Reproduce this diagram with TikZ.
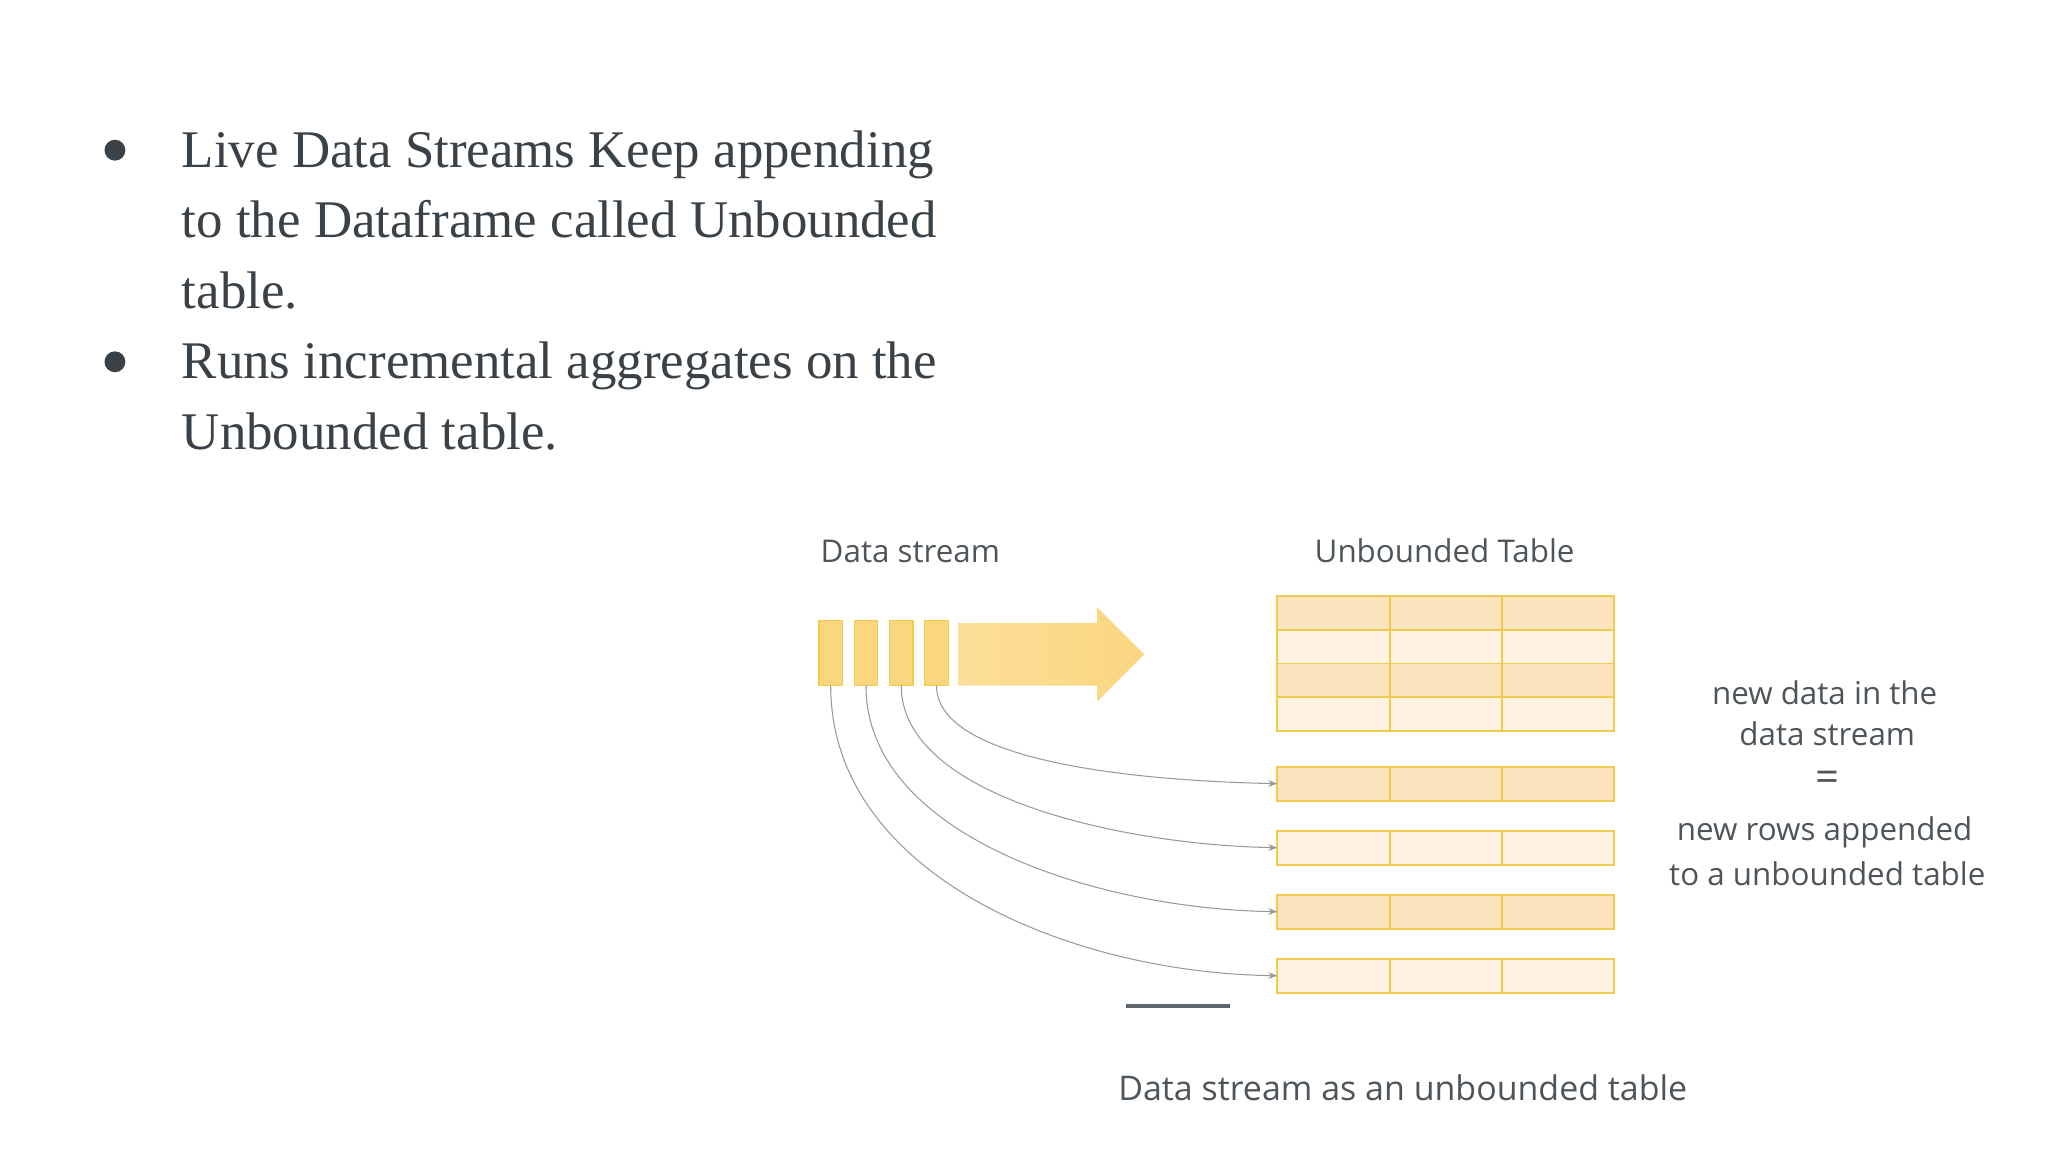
\documentclass[tikz,border=0pt]{standalone}
\usepackage{fontspec}
\setmainfont{Liberation Serif}
\newfontfamily\sansf{Open Sans}
\usetikzlibrary{arrows.meta}
\definecolor{dk}{HTML}{FCE3BE}
\definecolor{lt}{HTML}{FEF3E3}
\definecolor{st}{HTML}{F0CB4C}
\definecolor{bx}{HTML}{FAD67F}
\definecolor{txt}{HTML}{3A4248}
\tikzset{
 bul/.style={anchor=base west,font=\fontsize{40.5}{54}\selectfont,text=txt,inner sep=0},
 lab/.style={font=\sansf\fontsize{24}{30}\selectfont,text=txt!90,inner sep=0},
 cell/.style={draw=st,line width=1.5pt},
 curve/.style={draw=gray!80,line width=0.8pt,-{Stealth[length=7pt,width=5pt]}}
}
\begin{document}
\begin{tikzpicture}[x=1pt,y=-1pt]
\useasboundingbox (0,0) rectangle (1568,882);
\fill[txt] (88,115) circle (8) (88,277) circle (8);
\node[bul] (l1) at (139,128) {Live Data Streams Keep appending};
\node[bul] (l2) at (139,182) {to the Dataframe called Unbounded};
\node[bul] (l3) at (139,236) {table.};
\node[bul] (l4) at (139,290) {Runs incremental aggregates on the};
\node[bul] (l5) at (139,344) {Unbounded table.};
\node[lab] (ds) at (697,422) {Data stream};
\node[lab] (ut) at (1106,422) {Unbounded Table};
\foreach \x/\n in {627/1,654/2,681/3,708/4}{
  \draw[cell,fill=bx,line width=1pt] (\x,475) rectangle ++(18,50);
  \coordinate (b\n) at (\x+9,525);
}
\shade[left color=bx!80,right color=bx] (734,477) -- (840,477) -- (840,465) -- (876,501) -- (840,537) -- (840,525) -- (734,525) -- cycle;
\foreach \y/\c in {456/dk,482/lt,508/dk,534/lt}{
  \foreach \x in {978,1064,1150}{\draw[cell,fill=\c] (\x,\y) rectangle ++(86,26);}
}
\foreach \y/\c/\n in {587/dk/4,636/lt/3,685/dk/2,734/lt/1}{
  \foreach \x in {978,1064,1150}{\draw[cell,fill=\c] (\x,\y) rectangle ++(86,26);}
  \coordinate (r\n) at (978,\y+13);
}
\draw[curve] (b4) .. controls (717,585) and (880,598) .. (r4);
\draw[curve] (b3) .. controls (690,610) and (860,647) .. (r3);
\draw[curve] (b2) .. controls (663,640) and (840,696) .. (r2);
\draw[curve] (b1) .. controls (636,670) and (820,745) .. (r1);
\draw[txt!80,line width=3pt] (862,770) -- (942,770);
\node[lab,font=\sansf\fontsize{26}{30}\selectfont] (cap) at (1074,833) {Data stream as an unbounded table};
\node[lab] (n1) at (1397,530) {new data in the};
\node[lab] (n2) at (1399,562) {data stream};
\node[lab,font=\sansf\fontsize{32}{30}\selectfont] (eq) at (1399,598) {=};
\node[lab] (n3) at (1397,637) {new rows appended};
\node[lab] (n4) at (1399,669) {to a unbounded table};
\end{tikzpicture}
\end{document}
